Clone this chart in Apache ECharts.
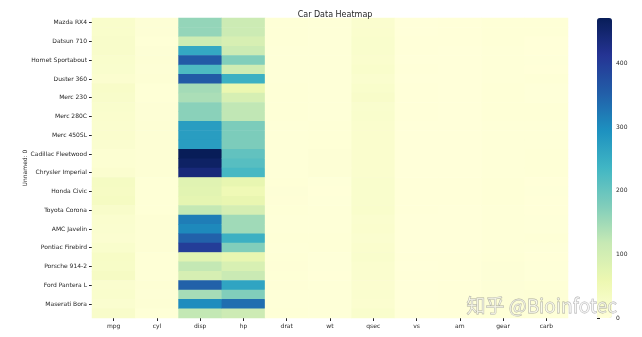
<!DOCTYPE html>
<html><head><meta charset="utf-8">
<script src="https://cdn.jsdelivr.net/npm/echarts@6/dist/echarts.min.js"></script>
<style>html,body{margin:0;padding:0;background:#fff}#c{width:642px;height:337px}</style>
</head><body><div id="c"></div>
<script>
const cars = ["Mazda RX4","Mazda RX4 Wag","Datsun 710","Hornet 4 Drive","Hornet Sportabout","Valiant","Duster 360","Merc 240D","Merc 230","Merc 280","Merc 280C","Merc 450SE","Merc 450SL","Merc 450SLC","Cadillac Fleetwood","Lincoln Continental","Chrysler Imperial","Fiat 128","Honda Civic","Toyota Corolla","Toyota Corona","Dodge Challenger","AMC Javelin","Camaro Z28","Pontiac Firebird","Fiat X1-9","Porsche 914-2","Lotus Europa","Ford Pantera L","Ferrari Dino","Maserati Bora","Volvo 142E"];
const columns = ["mpg","cyl","disp","hp","drat","wt","qsec","vs","am","gear","carb"];
const mpg  = [21.0,21.0,22.8,21.4,18.7,18.1,14.3,24.4,22.8,19.2,17.8,16.4,17.3,15.2,10.4,10.4,14.7,32.4,30.4,33.9,21.5,15.5,15.2,13.3,19.2,27.3,26.0,30.4,15.8,19.7,15.0,21.4];
const cyl  = [6,6,4,6,8,6,8,4,4,6,6,8,8,8,8,8,8,4,4,4,4,8,8,8,8,4,4,4,8,6,8,4];
const disp = [160,160,108,258,360,225,360,146.7,140.8,167.6,167.6,275.8,275.8,275.8,472,460,440,78.7,75.7,71.1,120.1,318,304,350,400,79,120.3,95.1,351,145,301,121];
const hp   = [110,110,93,110,175,105,245,62,95,123,123,180,180,180,205,215,230,66,52,65,97,150,150,245,175,66,91,113,264,175,335,109];
const drat = [3.90,3.90,3.85,3.08,3.15,2.76,3.21,3.69,3.92,3.92,3.92,3.07,3.07,3.07,2.93,3.00,3.23,4.08,4.93,4.22,3.70,2.76,3.15,3.73,3.08,4.08,4.43,3.77,4.22,3.62,3.54,4.11];
const wt   = [2.620,2.875,2.320,3.215,3.440,3.460,3.570,3.190,3.150,3.440,3.440,4.070,3.730,3.780,5.250,5.424,5.345,2.200,1.615,1.835,2.465,3.520,3.435,3.840,3.845,1.935,2.140,1.513,3.170,2.770,3.570,2.780];
const qsec = [16.46,17.02,18.61,19.44,17.02,20.22,15.84,20.00,22.90,18.30,18.90,17.40,17.60,18.00,17.98,17.82,17.42,19.47,18.52,19.90,20.01,16.87,17.30,15.41,17.05,18.90,16.70,16.90,14.50,15.50,14.60,18.60];
const vs   = [0,0,1,1,0,1,0,1,1,1,1,0,0,0,0,0,0,1,1,1,1,0,0,0,0,1,0,1,0,0,0,1];
const am   = [1,1,1,0,0,0,0,0,0,0,0,0,0,0,0,0,0,1,1,1,0,0,0,0,0,1,1,1,1,1,1,1];
const gear = [4,4,4,3,3,3,3,4,4,4,4,3,3,3,3,3,3,4,4,4,3,3,3,3,3,4,5,5,5,5,5,4];
const carb = [4,4,1,1,2,1,4,2,2,4,4,3,3,3,4,4,4,1,2,1,1,2,2,4,2,1,2,2,4,6,8,2];
const colorbarTicks = [0,100,200,300,400];

const cols = [mpg,cyl,disp,hp,drat,wt,qsec,vs,am,gear,carb];
const data = [];
cols.forEach((arr, ci) => arr.forEach((v, ri) => data.push([ci, ri, v])));
let vmax = -Infinity;
data.forEach(d => { vmax = Math.max(vmax, d[2]); });

const chart = echarts.init(document.getElementById('c'));
const ylgnbu = ['#ffffd9','#edf8b1','#c7e9b4','#7fcdbb','#41b6c4','#1d91c0','#225ea8','#253494','#081d58'];
const txt = '#262626';
chart.setOption({
  animation: false,
  title: { text: 'Car Data Heatmap', left: 330, top: 6, textAlign: 'center',
    textStyle: { fontSize: 8, fontWeight: 'normal', color: txt, fontFamily: 'DejaVu Sans' } },
  grid: [
    { left: 92, top: 18, width: 476, height: 300 },
    { left: 597, top: 18, width: 15, height: 300 }
  ],
  xAxis: [
    { type: 'category', data: columns, gridIndex: 0, splitArea: { show: false },
      axisLine: { show: false }, axisTick: { show: true, alignWithLabel: true, length: 3, lineStyle: { color: txt } },
      axisLabel: { fontSize: 6, color: txt, margin: 5, fontFamily: 'DejaVu Sans' } },
    { type: 'value', gridIndex: 1, show: false }
  ],
  yAxis: [
    { type: 'category', data: cars, inverse: true, gridIndex: 0,
      name: 'Unnamed: 0', nameLocation: 'middle', nameGap: 64, nameRotate: 90, nameMoveOverlap: false,
      nameTextStyle: { fontSize: 6, color: txt, fontFamily: 'DejaVu Sans' },
      axisLine: { show: false },
      axisTick: { show: true, alignWithLabel: true, length: 3, interval: 1, lineStyle: { color: txt } },
      axisLabel: { fontSize: 6, color: txt, interval: 1, margin: 5, fontFamily: 'DejaVu Sans' } },
    { type: 'value', gridIndex: 1, min: 0, max: vmax, interval: 100, position: 'right',
      axisLine: { show: false }, splitLine: { show: false },
      axisTick: { show: true, length: 3, lineStyle: { color: txt } },
      axisLabel: { fontSize: 6, color: txt, margin: 4, showMaxLabel: false, fontFamily: 'DejaVu Sans',
        formatter: v => colorbarTicks.includes(v) ? String(v) : '' } }
  ],
  visualMap: {
    type: 'continuous', min: 0, max: vmax, calculable: false, seriesIndex: 0,
    orient: 'vertical', left: 597, top: 18, itemWidth: 15, itemHeight: 300, padding: 0,
    text: ['', ''], showLabel: false, inRange: { color: ylgnbu }
  },
  series: [{
    type: 'heatmap', xAxisIndex: 0, yAxisIndex: 0, data: data,
    itemStyle: { borderWidth: 0 }, emphasis: { disabled: true }
  }],
  graphic: [{
    type: 'text', left: 466, top: 296, silent: true, z: 1000, zlevel: 1,
    style: { text: '知乎 @Bioinfotec', fontSize: 19, fill: 'rgba(255,255,255,0.55)',
      stroke: 'rgba(120,120,120,0.6)', lineWidth: 0.8, fontFamily: 'Noto Sans CJK SC' }
  }]
});
</script></body></html>
